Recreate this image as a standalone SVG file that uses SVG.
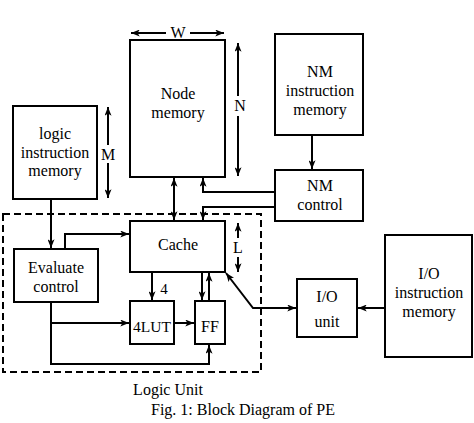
<svg xmlns="http://www.w3.org/2000/svg" width="474" height="423" viewBox="0 0 474 423">
<defs>
<marker id="ah" viewBox="0 0 10 8" refX="10" refY="4" markerWidth="9" markerHeight="7" markerUnits="userSpaceOnUse" orient="auto-start-reverse">
<path d="M0,0 L10,4 L0,8 L2.5,4 Z" fill="#000"/>
</marker>
</defs>
<style>
.box{fill:#fff;stroke:#000;stroke-width:2}
.ln{fill:none;stroke:#000;stroke-width:2}
.dash{fill:none;stroke:#000;stroke-width:2;stroke-dasharray:7,4}
text{font-family:"Liberation Serif","Times New Roman",serif;font-size:16px;fill:#000;text-anchor:middle}
.cap{font-size:16px}
</style>
<rect width="474" height="423" fill="#fff"/>

<g id="logic-unit-frame">
<rect class="dash" x="3" y="214" width="258" height="158"/>
<text x="168" y="395" class="cap">Logic Unit</text>
</g>

<g id="connectors">
<line class="ln" x1="166" y1="33" x2="131" y2="33" marker-end="url(#ah)"/>
<line class="ln" x1="190" y1="33" x2="224" y2="33" marker-end="url(#ah)"/>
<line class="ln" x1="238" y1="96" x2="238" y2="43" marker-end="url(#ah)"/>
<line class="ln" x1="238" y1="116" x2="238" y2="176" marker-end="url(#ah)"/>
<line class="ln" x1="108" y1="145" x2="108" y2="107" marker-end="url(#ah)"/>
<line class="ln" x1="108" y1="163" x2="108" y2="198" marker-end="url(#ah)"/>
<line class="ln" x1="238" y1="238" x2="238" y2="223" marker-end="url(#ah)"/>
<line class="ln" x1="238" y1="257" x2="238" y2="272" marker-end="url(#ah)"/>
<line class="ln" x1="174" y1="178" x2="174" y2="220" marker-start="url(#ah)" marker-end="url(#ah)"/>
<polyline class="ln" points="275,192 203,192 203,178" marker-end="url(#ah)"/>
<polyline class="ln" points="275,207 203,207 203,220" marker-end="url(#ah)"/>
<line class="ln" x1="312" y1="135" x2="312" y2="169" marker-end="url(#ah)"/>
<line class="ln" x1="51" y1="199" x2="51" y2="248" marker-end="url(#ah)"/>
<polyline class="ln" points="65,249 65,234 129,234" marker-end="url(#ah)"/>
<line class="ln" x1="152" y1="272" x2="152" y2="300" marker-end="url(#ah)"/>
<text x="164" y="294" style="font-size:15px">4</text>
<line class="ln" x1="202" y1="272" x2="202" y2="300" marker-end="url(#ah)"/>
<line class="ln" x1="209" y1="301" x2="209" y2="273" marker-end="url(#ah)"/>
<polyline class="ln" points="51,302 51,323 129,323" marker-end="url(#ah)"/>
<polyline class="ln" points="51,323 51,364 209,364 209,345" marker-end="url(#ah)"/>
<line class="ln" x1="174" y1="323" x2="194" y2="323" marker-end="url(#ah)"/>
<polyline class="ln" points="226,273 253,308 296,308" marker-start="url(#ah)" marker-end="url(#ah)"/>
<line class="ln" x1="385" y1="308" x2="358" y2="308" marker-end="url(#ah)"/>
</g>

<g id="dim-labels">
<text x="178" y="38">W</text>
<text x="240" y="111">N</text>
<text x="108" y="160">M</text>
<text x="238" y="253">L</text>
</g>

<g id="node-memory">
<rect class="box" x="130" y="40" width="95" height="137"/>
<text x="178" y="99">Node</text>
<text x="178" y="118">memory</text>
</g>

<g id="nm-instruction-memory">
<rect class="box" x="275" y="34" width="88" height="101"/>
<text x="320" y="77">NM</text>
<text x="320" y="96">instruction</text>
<text x="320" y="115">memory</text>
</g>

<g id="nm-control">
<rect class="box" x="275" y="170" width="88" height="51"/>
<text x="320" y="191">NM</text>
<text x="320" y="210">control</text>
</g>

<g id="logic-instruction-memory">
<rect class="box" x="13" y="106" width="84" height="93"/>
<text x="55" y="139">logic</text>
<text x="55" y="157.5">instruction</text>
<text x="55" y="176">memory</text>
</g>

<g id="cache">
<rect class="box" x="130" y="221" width="95" height="51"/>
<text x="178" y="250">Cache</text>
</g>

<g id="evaluate-control">
<rect class="box" x="14" y="249" width="84" height="53"/>
<text x="56" y="273">Evaluate</text>
<text x="56" y="292">control</text>
</g>

<g id="lut4">
<rect class="box" x="130" y="301" width="44" height="43"/>
<text x="152" y="332" style="font-size:15.5px">4LUT</text>
</g>

<g id="ff">
<rect class="box" x="195" y="301" width="30" height="43"/>
<text x="210" y="332">FF</text>
</g>

<g id="io-unit">
<rect class="box" x="297" y="279" width="60" height="58"/>
<text x="327" y="302">I/O</text>
<text x="327" y="327">unit</text>
</g>

<g id="io-instruction-memory">
<rect class="box" x="385" y="235" width="87" height="122"/>
<text x="429" y="279">I/O</text>
<text x="429" y="298">instruction</text>
<text x="429" y="317">memory</text>
</g>

<text x="243" y="415" class="cap">Fig. 1: Block Diagram of PE</text>
</svg>
